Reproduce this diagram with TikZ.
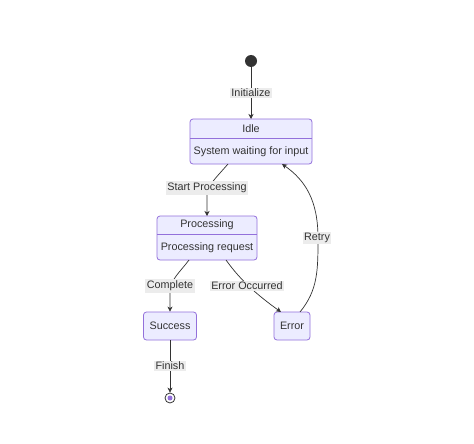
\documentclass[tikz,border=0pt]{standalone}
\usepackage{fontspec}
\setmainfont{Liberation Sans}
\usetikzlibrary{arrows.meta}
\definecolor{boxfill}{HTML}{ECECFF}
\definecolor{boxline}{HTML}{9370DB}
\definecolor{ink}{HTML}{333333}
\definecolor{lblbg}{HTML}{ECECEC}
\begin{document}
\begin{tikzpicture}[x=1pt,y=-1pt,
  every node/.style={font=\fontsize{10.8}{13}\selectfont, text=ink},
  statebox/.style={draw=boxline, fill=boxfill, rounded corners=3pt, line width=0.8pt},
  lbl/.style={fill=lblbg, inner sep=1.5pt},
  edge/.style={draw=ink, line width=0.7pt, -{Stealth[length=5pt,width=5pt,inset=1.5pt]}}
]
\useasboundingbox (0,0) rectangle (474,444);
\fill[white] (0,0) rectangle (474,444);
% start
\node[circle, fill=ink, minimum size=12pt, inner sep=0pt] (start) at (251,61) {};
% Idle
\draw[statebox] (190,119) rectangle (312,164);
\draw[boxline, line width=0.8pt] (190,138) -- (312,138);
\node (idle) at (251,141.5) [minimum width=122pt, minimum height=45pt] {};
\node at (251,129) {Idle};
\node at (251,152) {System waiting for input};
% Processing
\draw[statebox] (157,216) rectangle (257,260);
\draw[boxline, line width=0.8pt] (157,234) -- (257,234);
\node (proc) at (207,238) [minimum width=100pt, minimum height=44pt] {};
\node at (207,225) {Processing};
\node at (207,248) {Processing request};
% Success
\node[statebox, minimum width=53pt, minimum height=28pt, inner sep=0pt] (succ) at (170,326) {Success};
% Error
\node[statebox, minimum width=36pt, minimum height=28pt, inner sep=0pt] (err) at (292,326) {Error};
% end
\node[circle, draw=ink, fill=white, line width=0.8pt, minimum size=10pt, inner sep=0pt] (end) at (170,398) {};
\node[circle, fill=boxline, minimum size=5pt, inner sep=0pt] at (end) {};
% labels
\coordinate (c1) at (228,164);
\coordinate (c2) at (189,260);
\coordinate (c3) at (226,260);
\coordinate (c4) at (282,164);
\coordinate (c5) at (300,312);
\draw[edge] (start) -- (251,119);
\node[lbl] (linit) at (251,93) {Initialize};
\draw[edge] (c1) .. controls (214,180) and (207,186) .. (207,196) -- (207,216);
\node[lbl] at (207,188) {Start Processing};
\draw[edge] (c2) .. controls (180,272) and (170,280) .. (170,292) -- (succ.north);
\node[lbl] at (170,286) {Complete};
\draw[edge] (c3) .. controls (236,274) and (250,290) .. (281,312);
\node[lbl] at (247,286) {Error Occurred};
\draw[edge] (c5) .. controls (318,290) and (318,270) .. (318,238) .. controls (318,200) and (305,180) .. (c4);
\node[lbl] at (317,238) {Retry};
\draw[edge] (succ) -- (end);
\node[lbl] at (170,366) {Finish};
\end{tikzpicture}
\end{document}
